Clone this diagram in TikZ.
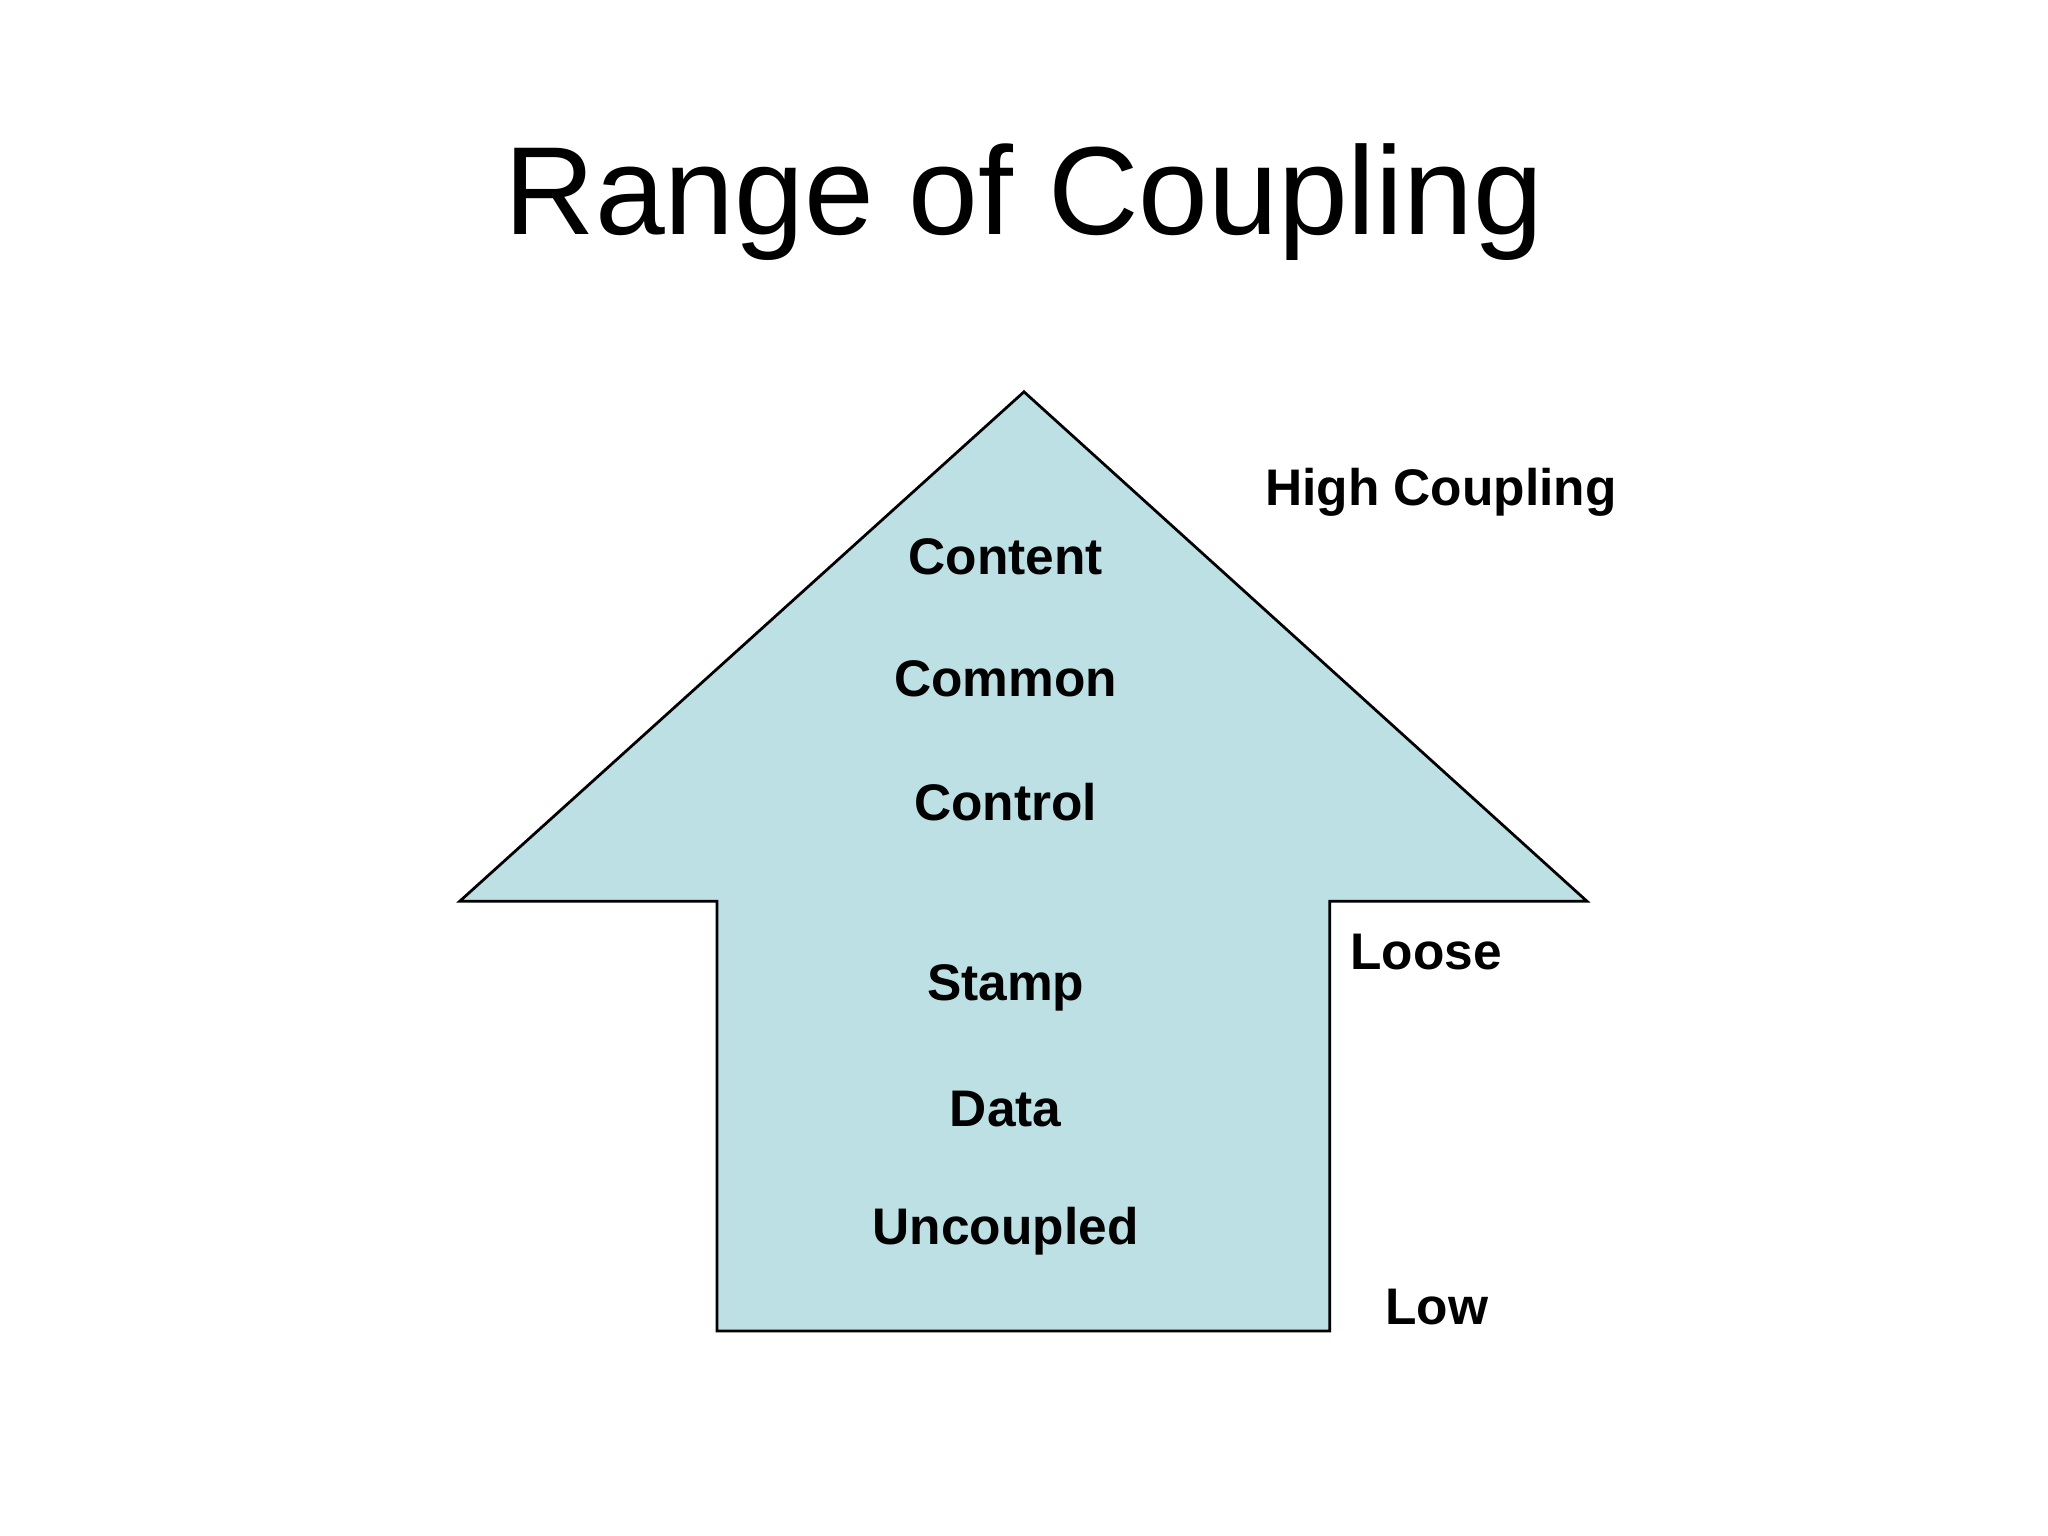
\documentclass[tikz,border=0pt]{standalone}
\usepackage{fontspec}
\setmainfont{Liberation Sans}
\definecolor{arrowfill}{HTML}{BCE0E3}
\begin{document}
\begin{tikzpicture}[x=0.01cm,y=-0.01cm,
  lbl/.style={font=\fontsize{11.2pt}{13pt}\selectfont\bfseries, inner sep=0pt},
  side/.style={lbl, anchor=west}]
\useasboundingbox (0,0) rectangle (1568,1176);
\node[font=\fontsize{27.3pt}{32pt}\selectfont, inner sep=0pt] (title) at (784,155) {Range of Coupling};
\coordinate (tip) at (784,300);
\coordinate (lw) at (352,690);
\coordinate (ls) at (549,690);
\coordinate (lb) at (549,1019);
\coordinate (rb) at (1018,1019);
\coordinate (rs) at (1018,690);
\coordinate (rw) at (1215,690);
\draw[fill=arrowfill, line width=0.6pt] (tip) -- (lw) -- (ls) -- (lb) -- (rb) -- (rs) -- (rw) -- cycle;
\node[lbl] (content) at (770,426) {Content};
\node[lbl] (common) at (770,520) {Common};
\node[lbl] (control) at (770,614) {Control};
\node[lbl] (stamp) at (770,756) {Stamp};
\node[lbl] (data) at (770,849) {Data};
\node[lbl] (uncoupled) at (770,943) {Uncoupled};
\node[side] (high) at (968,377) {High Coupling};
\node[side] (loose) at (1033,729) {Loose};
\node[side] (low) at (1060,1001) {Low};
\end{tikzpicture}
\end{document}
